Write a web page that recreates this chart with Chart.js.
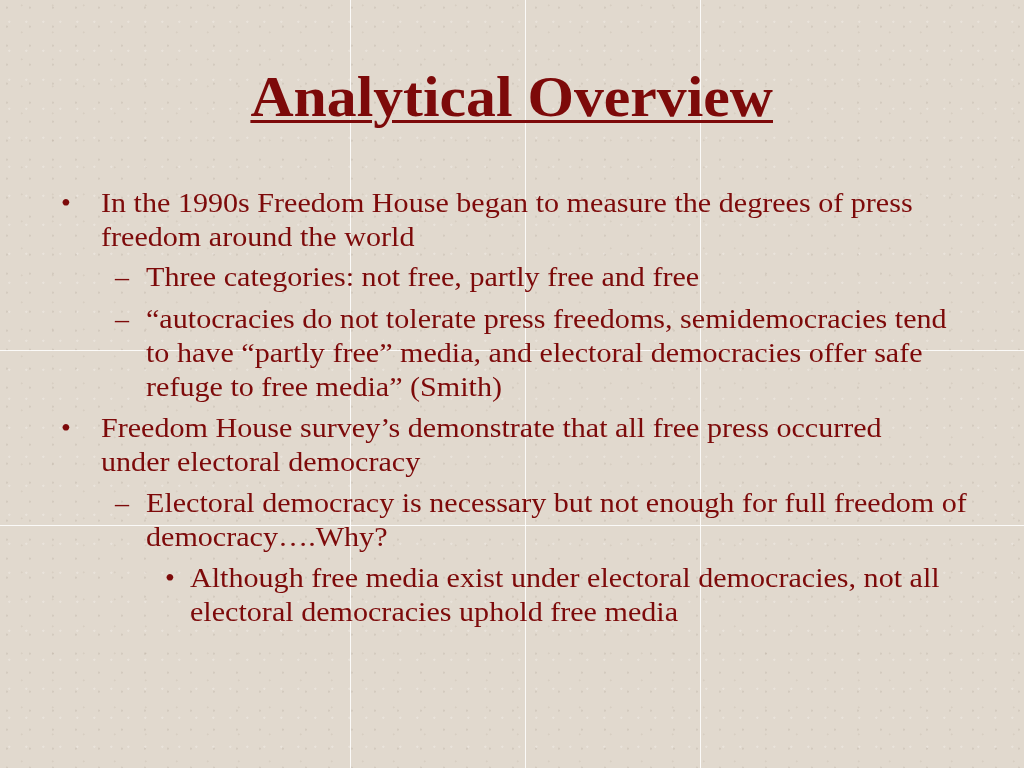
<!DOCTYPE html>
<html>
<head>
<meta charset="utf-8">
<script src="https://cdn.jsdelivr.net/npm/chart.js@4.4.1/dist/chart.umd.min.js"></script>
<style>
  html, body { margin: 0; padding: 0; }
  body {
    width: 1024px; height: 768px; overflow: hidden; position: relative;
    background-color: #e1d9ce;
    background-image:
      radial-gradient(circle at 30% 40%, rgba(150,135,120,0.18) 0.8px, transparent 1.4px),
      radial-gradient(circle at 70% 20%, rgba(160,145,130,0.15) 0.7px, transparent 1.3px),
      radial-gradient(circle at 55% 75%, rgba(255,255,255,0.25) 0.8px, transparent 1.5px);
    background-size: 23px 19px, 31px 27px, 17px 29px;
  }
  #wrap { position: absolute; left: 0; top: 0; width: 1024px; height: 768px; }
  #slide {
    position: absolute; left: 0; top: 0; width: 1024px; height: 768px;
    font-family: "Liberation Serif", serif; color: #7d0a0a;
  }
  .title {
    position: absolute; left: 0; width: 1024px; top: 62px; text-align: center;
    font-size: 58px; font-weight: bold; line-height: 70px;
  }
  .title span {
    display: inline-block; transform: scaleX(1.03);
    text-decoration: underline; text-decoration-thickness: 3px; text-underline-offset: 4px;
  }
  .p {
    position: absolute; font-size: 28px; line-height: 34px; white-space: nowrap;
    transform: scaleX(1.075); transform-origin: 0 0;
  }
  .mk { position: absolute; font-size: 28px; line-height: 34px; }
</style>
</head>
<body>
<div id="wrap"><canvas id="c" width="1024" height="768"></canvas></div>
<div id="slide">
  <div class="title"><span>Analytical Overview</span></div>

  <div class="mk" style="left:61px; top:186px;">•</div>
  <div class="p" style="left:101px; top:186px;">In the 1990s Freedom House began to measure the degrees of press<br>freedom around the world</div>

  <div class="mk" style="left:115px; top:260px;">–</div>
  <div class="p" style="left:146px; top:260px;">Three categories: not free, partly free and free</div>

  <div class="mk" style="left:115px; top:302px;">–</div>
  <div class="p" style="left:146px; top:302px;">“autocracies do not tolerate press freedoms, semidemocracies tend<br>to have “partly free” media, and electoral democracies offer safe<br>refuge to free media” (Smith)</div>

  <div class="mk" style="left:61px; top:411px;">•</div>
  <div class="p" style="left:101px; top:411px;">Freedom House survey’s demonstrate that all free press occurred<br>under electoral democracy</div>

  <div class="mk" style="left:115px; top:486px;">–</div>
  <div class="p" style="left:146px; top:486px;">Electoral democracy is necessary but not enough for full freedom of<br>democracy….Why?</div>

  <div class="mk" style="left:165px; top:561px;">•</div>
  <div class="p" style="left:190px; top:561px;">Although free media exist under electoral democracies, not all<br>electoral democracies uphold free media</div>
</div>
<script>
// faint seams of the paper texture, drawn as grid lines
var seamX = [350, 525, 700];
var seamY = [350, 525];
var pageW = 1024;
var pageH = 768;

function setTicks(values) {
    return function(scale) {
        scale.ticks = values.map(function(v) { return {value: v}; });
    };
}

var gridStyle = {
    color: "rgba(255, 255, 255, 0.85)",
    lineWidth: 1,
    drawTicks: false
};

new Chart(document.getElementById("c"), {
    type: "scatter",
    data: { datasets: [{ data: [] }] },
    options: {
        responsive: false,
        animation: false,
        layout: { padding: 0 },
        plugins: { legend: { display: false }, tooltip: { enabled: false } },
        scales: {
            x: {
                type: "linear", min: 0, max: pageW,
                afterBuildTicks: setTicks(seamX),
                ticks: { display: false },
                border: { display: false },
                grid: gridStyle
            },
            y: {
                type: "linear", min: 0, max: pageH, reverse: true,
                afterBuildTicks: setTicks(seamY),
                ticks: { display: false },
                border: { display: false },
                grid: gridStyle
            }
        }
    }
});
</script>
</body>
</html>
